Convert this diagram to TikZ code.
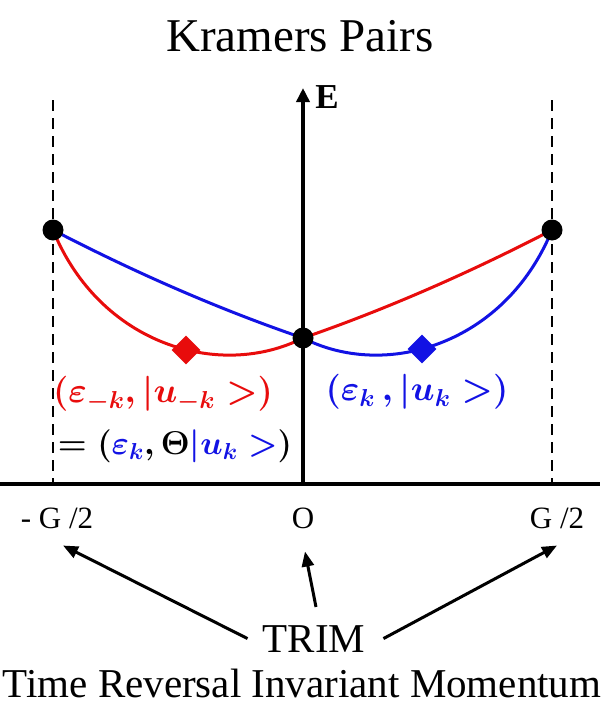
\RequirePackage{fix-cm}
\documentclass[tikz,border=0pt]{standalone}
\usepackage{amsmath}
\usepackage{fontspec}
\setmainfont{Liberation Serif}
\usetikzlibrary{arrows.meta,shapes.geometric,backgrounds}
\definecolor{kred}{RGB}{232,12,12}
\definecolor{kblue}{RGB}{18,18,228}
\tikzset{
  kp/.style={circle,fill=black,minimum size=21pt,inner sep=0pt},
  rdm/.style={diamond,fill=kred,minimum size=29pt,inner sep=0pt},
  bdm/.style={rdm,fill=kblue},
  ttl/.style={anchor=base,inner sep=2pt,font=\fontsize{47}{52}\selectfont},
  big/.style={anchor=base,inner sep=2pt,font=\fontsize{41}{46}\selectfont},
  tk/.style={anchor=base,inner sep=2pt,font=\fontsize{31}{36}\selectfont},
  elab/.style={inner sep=1pt,font=\fontsize{35}{40}\selectfont\bfseries},
  ml/.style={inner sep=1pt,font=\fontsize{35}{40}\selectfont\boldmath},
  ax/.style={line width=4pt},
  bz/.style={line width=2.8pt,dash pattern=on 11pt off 7pt},
  rc/.style={line width=3pt,draw=kred},
  bc/.style={line width=3pt,draw=kblue},
  ar/.style={line width=3pt,-{Triangle[length=15pt,width=12pt]}},
}
\begin{document}
\begin{tikzpicture}[x=1pt,y=-1pt]
  \useasboundingbox (0,0) rectangle (600,712);
  \node[ttl] (title) at (300,51) {Kramers Pairs};

  \coordinate (O) at (303,484);
  \coordinate (Etop) at (303,88);
  \coordinate (xl) at (0,484);
  \coordinate (xr) at (600,484);
  \coordinate (bzlt) at (53,100);
  \coordinate (bzlb) at (53,484);
  \coordinate (bzrt) at (552,100);
  \coordinate (bzrb) at (552,484);

  \node[kp] (L) at (53,230) {};
  \node[kp] (C) at (303,338) {};
  \node[kp] (R) at (552,230) {};
  \node[rdm] (rmin) at (186,350) {};
  \node[bdm] (bmin) at (422,349) {};
  \node[elab] (E) at (327,97) {E};

  \node[ml,text=kred] (rl) at (163,394) {$(\varepsilon_{-k},|u_{-k}>)$};
  \node[ml,text=kblue] (bl) at (417,392) {$(\varepsilon_k\,,|u_k>)$};
  \node[ml,font=\fontsize{33}{38}\selectfont\boldmath] (tl) at (175,446) {$=(\textcolor{kblue}{\varepsilon_k},\Theta\textcolor{kblue}{|u_k>})$};

  \node[tk] (mG) at (57,528) {- G /2};
  \node[tk] (oL) at (303,528) {O};
  \node[tk] (pG) at (557,528) {G /2};
  \node[big] (trim) at (314,652) {TRIM};
  \node[big] (trm) at (302,697) {Time Reversal Invariant Momentum};

  \begin{scope}[on background layer]
    \draw[ax] (xl) -- (xr);
    \draw[ax,-{Triangle[length=14pt,width=13pt]}] (O) -- (Etop);
    \draw[bz] (bzlt) -- (bzlb);
    \draw[bz] (bzrt) -- (bzrb);
    \draw[rc] (L.center) .. controls (100,345) and (220,380) .. (C.center)
      .. controls (390,308) and (475,270) .. (R.center);
    \draw[bc] (L.center) .. controls (130,270) and (215,308) .. (C.center)
      .. controls (385,380) and (505,345) .. (R.center);
  \end{scope}

  \draw[ar] ([xshift=-13pt]trim.west) -- ([xshift=6pt,yshift=-15pt]mG.south);
  \draw[ar] ([xshift=2pt,yshift=16pt]trim.north) -- ([xshift=2pt,yshift=-21pt]oL.south);
  \draw[ar] ([xshift=16pt]trim.east) -- ([yshift=-15pt]pG.south);
\end{tikzpicture}
\end{document}
